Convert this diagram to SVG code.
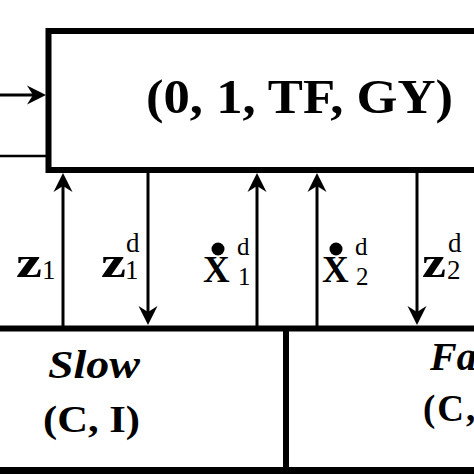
<svg xmlns="http://www.w3.org/2000/svg" width="474" height="474" viewBox="0 0 474 474">
<style>
.t{font-family:"Liberation Serif",Tinos,"Times New Roman",Times,serif;fill:#000}
.b{font-weight:bold}
.bi{font-weight:bold;font-style:italic}
.thick{stroke:#000;fill:none}
.conn{stroke:#000;stroke-width:3;fill:none;marker-end:url(#ah)}
</style>
<defs>
<marker id="ah" markerUnits="userSpaceOnUse" viewBox="-14 -10 21 20" markerWidth="21" markerHeight="20" refX="0" refY="0" orient="auto">
<path d="M6,0 L-13,-9.5 L-7,0 L-13,9.5 Z" fill="#000"/>
</marker>
</defs>
<rect width="474" height="474" fill="#fff"/>
<g id="top-node">
<rect x="48.5" y="31" width="440" height="139" class="thick" stroke-width="6"/>
<text class="t b" x="146" y="113" font-size="49" textLength="307" lengthAdjust="spacingAndGlyphs">(0, 1, TF, GY)</text>
</g>
<g id="slow-node">
<text class="t bi" x="48" y="378" font-size="40" textLength="92" lengthAdjust="spacingAndGlyphs">Slow</text>
<text class="t b" x="43" y="432" font-size="37" textLength="97" lengthAdjust="spacingAndGlyphs">(C, I)</text>
</g>
<g id="fast-node">
<text class="t bi" x="430" y="370" font-size="40">Fa</text>
<text class="t b" x="423" y="421" font-size="37" letter-spacing="2">(C,</text>
</g>
<g id="frame">
<line x1="0" y1="328.5" x2="474" y2="328.5" stroke="#000" stroke-width="6"/>
<line x1="286" y1="328" x2="286" y2="470" stroke="#000" stroke-width="6"/>
<line x1="0" y1="470.5" x2="474" y2="470.5" stroke="#000" stroke-width="7"/>
</g>
<g id="connectors">
<line x1="0" y1="95" x2="40" y2="95" class="conn" stroke-width="2.5"/>
<line x1="0" y1="156" x2="46" y2="156" stroke="#000" stroke-width="2.5"/>
<line x1="63" y1="326" x2="63" y2="179" class="conn"/>
<line x1="148" y1="173" x2="148" y2="319" class="conn"/>
<line x1="257" y1="326" x2="257" y2="179" class="conn"/>
<line x1="317" y1="326" x2="317" y2="179" class="conn"/>
<line x1="417" y1="173" x2="417" y2="319" class="conn"/>
</g>
<g id="labels">
<text class="t b" x="16" y="277" font-size="44" textLength="26" lengthAdjust="spacingAndGlyphs">z</text>
<text class="t" x="42" y="279" font-size="27">1</text>
<text class="t b" x="101" y="277" font-size="44" textLength="25" lengthAdjust="spacingAndGlyphs">z</text>
<text class="t" x="125" y="279" font-size="27">1</text>
<text class="t" x="126" y="252" font-size="27">d</text>
<circle cx="218" cy="249" r="6.5"/>
<text class="t b" x="203" y="282" font-size="37">X</text>
<text class="t" x="237" y="255" font-size="25">d</text>
<text class="t" x="238" y="285" font-size="25">1</text>
<circle cx="336" cy="249" r="6.5"/>
<text class="t b" x="322" y="282" font-size="37">X</text>
<text class="t" x="355" y="255" font-size="25">d</text>
<text class="t" x="356" y="285" font-size="25">2</text>
<text class="t b" x="422" y="277" font-size="44" textLength="24" lengthAdjust="spacingAndGlyphs">z</text>
<text class="t" x="447" y="279" font-size="27">2</text>
<text class="t" x="448" y="252" font-size="27">d</text>
</g>
</svg>
